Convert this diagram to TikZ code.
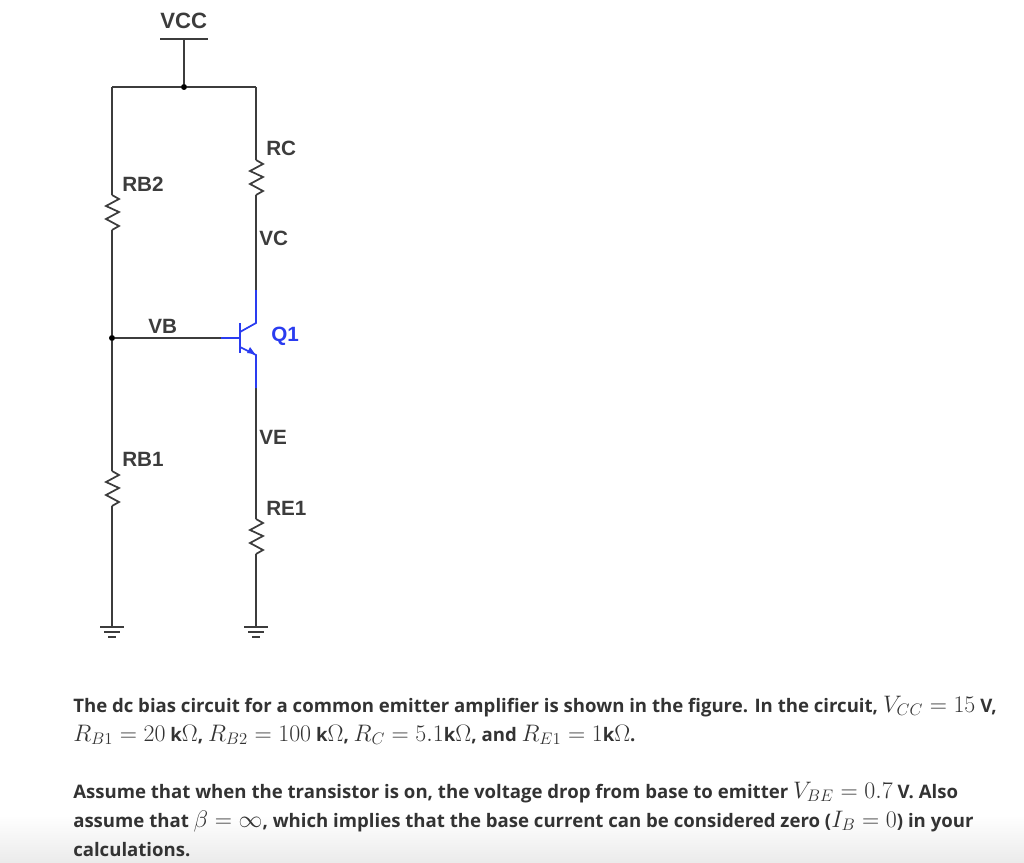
\RequirePackage{fix-cm}
\documentclass[tikz,border=0pt]{standalone}
\usepackage{amsmath}
\usepackage{fontspec}
\setmainfont{Open Sans}
\newfontfamily\labelfont{Liberation Sans}
\usetikzlibrary{calc,arrows.meta}
\definecolor{wiregray}{HTML}{3C3C3C}
\definecolor{textgray}{HTML}{333333}
\definecolor{qblue}{HTML}{2A3CF0}
\newcommand{\mth}[1]{{\fontsize{17.9}{17}\selectfont$#1$}}
\tikzset{
	wire/.style={line width=1.3pt, wiregray},
	qwire/.style={line width=1.3pt, qblue},
	lab/.style={font=\labelfont\fontsize{15.5}{18}\selectfont\bfseries, text=wiregray, inner sep=0pt, anchor=base west},
	txt/.style={font=\fontsize{13.95}{17}\selectfont\bfseries, text=textgray, inner sep=0pt, anchor=base west},
	dot/.style={circle, fill=black, inner sep=0pt, minimum size=4.5pt},
	res/.pic={\draw[wire, line join=miter] (0,0)--(7,4)--(-6,11)--(7,17)--(-6,24)--(7,31)--(0,35);},
	gnd/.pic={\draw[wire] (-12,0)--(12,0) (-8,5)--(8,5) (-4,10)--(4,10);}
}
\begin{document}
\begin{tikzpicture}[x=0.75pt,y=-0.75pt]
		\useasboundingbox (0,0) rectangle (1024,863);
		\shade[top color=white, bottom color=black!8, draw=none] (0,815) rectangle (1024,863);
		% supply and top rail
		\coordinate (VCC) at (184,39);
		\coordinate (VCCl) at (160,39);
		\coordinate (VCCr) at (208,39);
		\node[dot] (T) at (184,87) {};
		\coordinate (TL) at (112,87);
		\coordinate (TR) at (256,87);
		\draw[wire] (VCCl)--(VCCr);
		\draw[wire] (VCC)--(T);
		\draw[wire] (T)--(TL);
		\draw[wire] (T)--(TR);
		% left branch
		\coordinate (RB2t) at (112,195);
		\coordinate (RB2b) at (112,230);
		\node[dot] (B) at (112,338) {};
		\coordinate (RB1t) at (112,471);
		\coordinate (RB1b) at (112,506);
		\coordinate (GL) at (112,627);
		\draw[wire] (TL)--(RB2t);
		\pic at (RB2t) {res};
		\draw[wire] (RB2b)--(B);
		\draw[wire] (B)--(RB1t);
		\pic at (RB1t) {res};
		\draw[wire] (RB1b)--(GL);
		\pic at (GL) {gnd};
		% right branch
		\coordinate (RCt) at (256,160);
		\coordinate (RCb) at (256,195);
		\coordinate (Qc) at (256,290);
		\coordinate (Qe) at (256,388);
		\coordinate (REt) at (256,519);
		\coordinate (REb) at (256,554);
		\coordinate (GR) at (256,627);
		\draw[wire] (TR)--(RCt);
		\pic at (RCt) {res};
		\draw[wire] (RCb)--(Qc);
		\draw[wire] (Qe)--(REt);
		\pic at (REt) {res};
		\draw[wire] (REb)--(GR);
		\pic at (GR) {gnd};
		% transistor
		\coordinate (Qb) at (221,338);
		\coordinate (Qbar) at (240,338);
		\coordinate (Qct) at (256,323);
		\coordinate (Qet) at (256,355);
		\draw[wire] (B)--(Qb);
		\draw[qwire] (Qb)--(Qbar);
		\draw[qwire] (240,323)--(240,353);
		\draw[qwire] (Qc)--(Qct)--(240,332);
		\draw[qwire] (Qe)--(Qet)--(240,347);
		\fill[qblue] (255,354)--(247,353)--(250,347)--cycle;
		% labels
		\node[lab, font=\labelfont\fontsize{16.6}{18}\selectfont\bfseries] (lVCC) at (160,29) {VCC};
		\node[lab] (lRC) at (266,156) {RC};
		\node[lab] (lRB2) at (122,191) {RB2};
		\node[lab] (lVC) at (259,245) {VC};
		\node[lab] (lVB) at (148,333) {VB};
		\node[lab, text=qblue] (lQ) at (271,341) {Q1};
		\node[lab] (lVE) at (259,444) {VE};
		\node[lab] (lRB1) at (122,466) {RB1};
		\node[lab] (lRE) at (266,515) {RE1};
		% problem text
		\node[txt] (t1) at (73,712) {The dc bias circuit for a common emitter amplifier is shown in the figure. In the circuit, \mth{V_{CC}=15} V,};
		\node[txt] (t2) at (73,741) {\mth{R_{B1}=20} k\mth{\Omega}, \mth{R_{B2}=100} k\mth{\Omega}, \mth{R_C=5.1}k\mth{\Omega}, and \mth{R_{E1}=1}k\mth{\Omega}.};
		\node[txt] (t3) at (73,798) {Assume that when the transistor is on, the voltage drop from base to emitter \mth{V_{BE}=0.7} V. Also};
		\node[txt] (t4) at (73,827) {assume that \mth{\beta=\infty}, which implies that the base current can be considered zero (\mth{I_B=0}) in your};
		\node[txt] (t5) at (73,856) {calculations.};
	\end{tikzpicture}
\end{document}
